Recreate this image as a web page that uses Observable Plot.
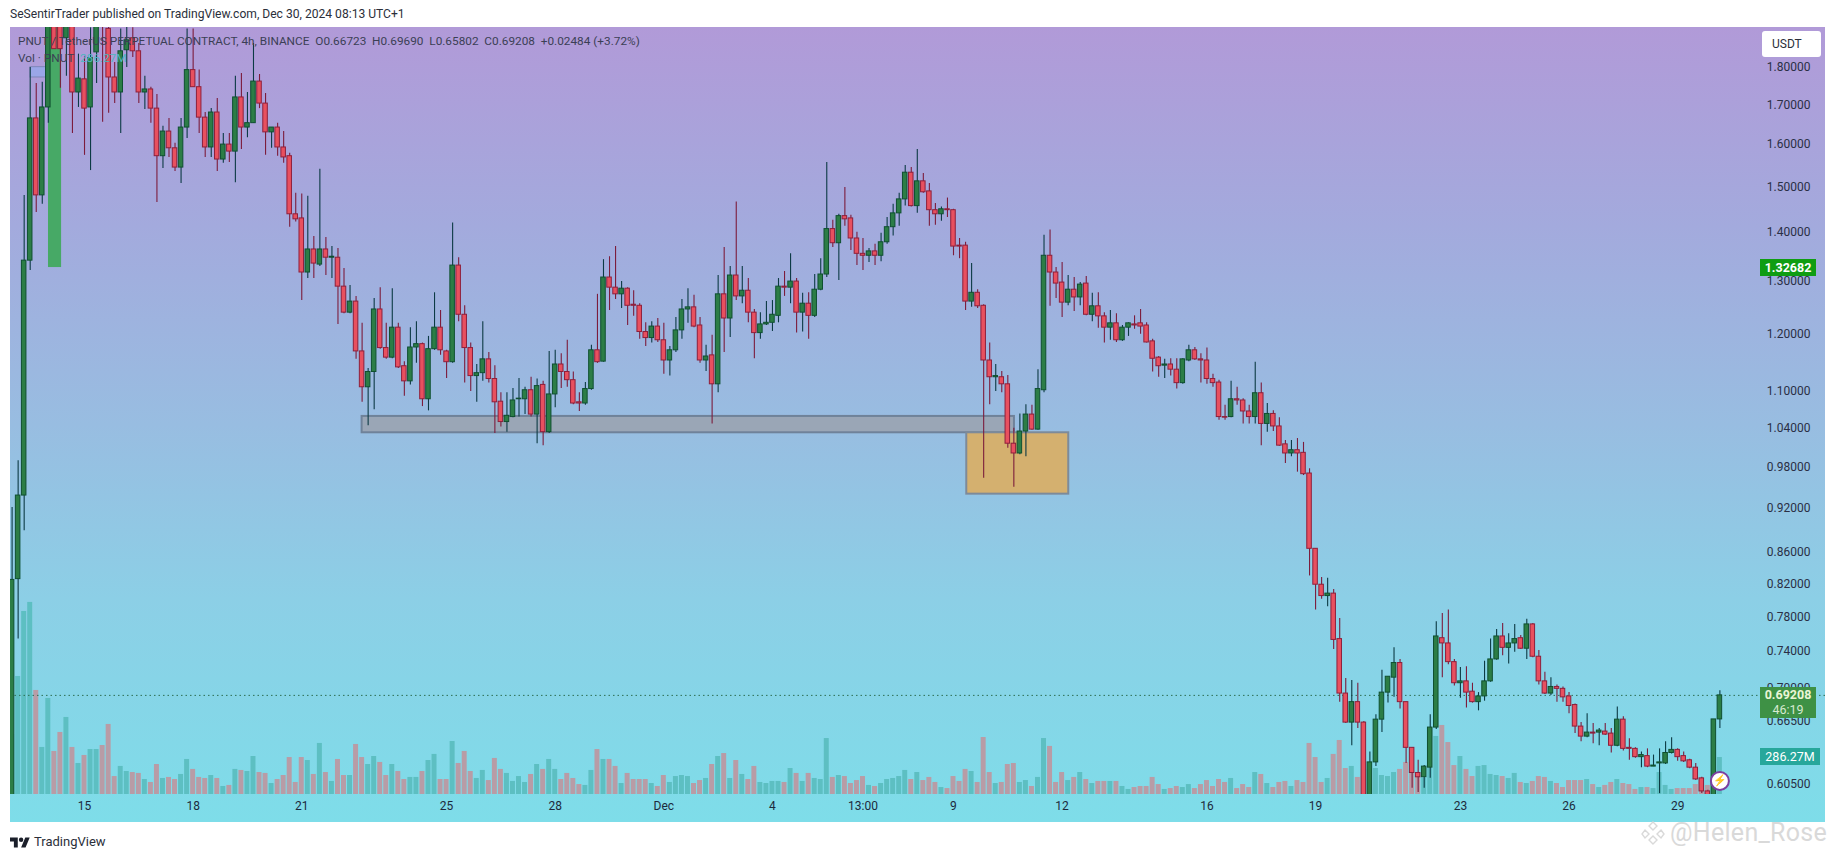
<!DOCTYPE html>
<html><head><meta charset="utf-8">
<script src="https://cdn.jsdelivr.net/npm/d3@7"></script>
<script src="https://cdn.jsdelivr.net/npm/@observablehq/plot@0.6"></script>
<style>
html,body{margin:0;padding:0;background:#fff;font-family:Roboto,sans-serif;overflow:hidden}
#page{position:relative;width:1835px;height:857px;overflow:hidden}
#head{position:absolute;left:10px;top:7px;font-size:12.1px;color:#2b2f3a}
#panel{position:absolute;left:10px;top:27px;width:1815px;height:795px;background:linear-gradient(180deg,#b19ad8 0%,#a3aadd 25%,#98bde1 50%,#8ccfe6 72%,#7edde9 100%)}
#stack{position:absolute;left:0;top:27px;width:1835px;height:795px}
#stack svg{position:absolute;left:0;top:0}
.leg{position:absolute;left:18px;font-size:11.8px;color:#3b3f55;white-space:pre}
.tag{position:absolute;left:1760px;width:56px;color:#fff;font-size:12.5px;font-weight:700;text-align:center}
#tv{position:absolute;left:10px;top:834px;display:flex;align-items:center;gap:4px;font-size:13px;color:#2b2f3a}
#wm{position:absolute;left:1640px;top:818px;display:flex;align-items:center;gap:4px;font-size:25px;color:#d9d9d9;letter-spacing:.3px}
#usdt{position:absolute;left:1762px;top:31px;width:59px;height:26px;background:#fff;border-radius:3px;font-size:12px;line-height:26px;color:#2b2f3a;text-indent:10px}
</style></head><body>
<div id="page">
<div id="head">SeSentirTrader published on TradingView.com, Dec 30, 2024 08:13 UTC+1</div>
<div id="panel"></div>
<div id="stack"></div>
<div class="leg" style="top:34px">PNUT / TetherUS PERPETUAL CONTRACT, 4h, BINANCE  O0.66723  H0.69690  L0.65802  C0.69208  +0.02484 (+3.72%)</div>
<div class="leg" style="top:51px">Vol · PNUT  <span style="color:#4fb6c0">286.27M</span></div>
<div id="usdt">USDT</div>
<div class="tag" style="top:259px;height:17px;line-height:17px;background:#0f9d12">1.32682</div>
<div class="tag" style="top:687px;height:31px;background:#3e9145;line-height:15px;padding-top:0;color:#eaf5d5"><div>0.69208</div><div style="font-weight:400;color:#d7ead0">46:19</div></div>
<div class="tag" style="top:748px;height:17px;width:60px;line-height:17px;background:#27a79b;font-weight:400">286.27M</div>
<div id="tv"><svg width="20" height="14" viewBox="0 0 36 24"><path fill="#1b1f2a" d="M14 22H7V11H0V4h14v18zM28 22h-8l7.5-18h8L28 22z"/><circle fill="#1b1f2a" cx="20" cy="8" r="4"/></svg><span>TradingView</span></div>
<div id="wm"><svg width="26" height="26" viewBox="0 0 26 26" fill="none" stroke="#d9d9d9" stroke-width="1.4"><path d="M13 2l4 4-4 4-4-4zM5 10l4 4-4 4-3-4zM21 10l3 4-3 4-4-4zM13 16l4 4-4 4-4-4z"/></svg><span>@Helen_Rose</span></div>
</div>
<script>
const opens=[.59,.826,.938,1.341,1.665,1.481,1.693,1.947,1.947,1.881,
1.947,1.732,1.767,1.693,1.841,1.939,1.908,1.772,1.732,1.847,
1.881,1.844,1.732,1.740,1.690,1.572,1.632,1.591,1.545,1.642,
1.792,1.746,1.667,1.593,1.680,1.564,1.600,1.583,1.719,1.642,
1.653,1.761,1.703,1.630,1.642,1.593,1.572,1.439,1.430,1.317,
1.364,1.333,1.364,1.347,1.347,1.289,1.239,1.260,1.168,1.106,
1.132,1.245,1.174,1.157,1.211,1.142,1.116,1.175,1.181,1.086,
1.172,1.211,1.168,1.149,1.331,1.235,1.174,1.125,1.130,1.154,
1.120,1.082,1.049,1.057,1.086,1.086,1.101,1.061,1.110,1.033,
1.094,1.145,1.132,1.118,1.081,1.079,1.103,1.170,1.150,1.307,
1.287,1.274,1.285,1.254,1.252,1.203,1.192,1.213,1.188,1.152,
1.170,1.206,1.245,1.249,1.215,1.152,1.161,1.111,1.274,1.228,
1.311,1.270,1.281,1.239,1.201,1.217,1.220,1.233,1.289,1.287,
1.299,1.239,1.256,1.233,1.283,1.313,1.407,1.377,1.435,1.430,
1.387,1.355,1.351,1.360,1.351,1.379,1.411,1.441,1.472,1.533,
1.457,1.513,1.490,1.448,1.439,1.450,1.448,1.372,1.372,1.260,
1.277,1.252,1.152,1.123,1.123,1.111,1.015,1.000,1.034,1.061,
1.037,1.101,1.351,1.317,1.297,1.258,1.283,1.268,1.295,1.235,
1.251,1.232,1.211,1.219,1.188,1.211,1.217,1.219,1.215,1.186,
1.157,1.143,1.145,1.136,1.113,1.152,1.170,1.154,1.152,1.120,
1.114,1.057,1.057,1.086,1.084,1.066,1.057,1.096,1.046,1.062,
1.042,1.014,1.000,1.005,1.001,.970,.865,.819,.805,.808,
.754,.694,.664,.685,.664,.59,.625,.667,.695,.711,
.727,.685,.639,.615,.611,.620,.659,.755,.749,.728,
.705,.707,.696,.685,.691,.707,.731,.757,.744,.749,
.755,.743,.771,.734,.707,.694,.701,.699,.691,.682,
.660,.650,.654,.654,.655,.653,.641,.667,.639,.638,
.630,.631,.621,.624,.624,.634,.637,.631,.627,.620,
.610,.598,.59,.66723];
const closes=[.825,.938,1.341,1.665,1.481,1.693,1.933,1.850,1.850,1.947,
1.732,1.769,1.690,1.825,1.933,1.918,1.772,1.732,1.844,1.875,
1.844,1.732,1.740,1.690,1.572,1.632,1.591,1.545,1.642,1.792,
1.746,1.667,1.593,1.680,1.564,1.600,1.583,1.719,1.642,1.653,
1.761,1.703,1.630,1.642,1.593,1.569,1.439,1.428,1.317,1.364,
1.335,1.364,1.347,1.349,1.289,1.239,1.260,1.168,1.106,1.132,
1.245,1.174,1.157,1.211,1.140,1.116,1.175,1.181,1.086,1.172,
1.211,1.170,1.149,1.331,1.235,1.174,1.125,1.130,1.154,1.120,
1.081,1.049,1.059,1.084,1.087,1.101,1.061,1.108,1.033,1.094,
1.145,1.132,1.118,1.079,1.079,1.103,1.170,1.149,1.307,1.287,
1.274,1.285,1.252,1.252,1.203,1.192,1.213,1.188,1.152,1.170,
1.206,1.245,1.249,1.213,1.152,1.159,1.111,1.274,1.228,1.311,
1.270,1.281,1.239,1.201,1.217,1.220,1.235,1.289,1.287,1.299,
1.239,1.256,1.233,1.283,1.313,1.407,1.377,1.435,1.428,1.387,
1.355,1.351,1.360,1.351,1.379,1.411,1.441,1.472,1.533,1.457,
1.513,1.488,1.448,1.439,1.450,1.448,1.370,1.370,1.260,1.277,
1.251,1.152,1.123,1.125,1.111,1.015,1.000,1.034,1.061,1.037,
1.103,1.351,1.317,1.295,1.258,1.283,1.268,1.293,1.235,1.251,
1.232,1.211,1.219,1.188,1.211,1.219,1.215,1.213,1.184,1.155,
1.142,1.145,1.136,1.113,1.154,1.170,1.154,1.152,1.120,1.113,
1.057,1.056,1.086,1.084,1.066,1.057,1.096,1.046,1.062,1.042,
1.012,1.000,1.005,1.000,.969,.865,.819,.805,.808,.753,
.694,.664,.685,.664,.59,.625,.667,.695,.712,.727,
.685,.639,.615,.611,.621,.659,.757,.749,.728,.705,
.707,.695,.685,.691,.707,.731,.757,.744,.749,.754,
.743,.771,.734,.707,.694,.701,.699,.690,.681,.660,
.650,.654,.653,.656,.652,.641,.667,.638,.638,.630,
.632,.621,.622,.625,.634,.637,.630,.626,.620,.609,
.598,.59,.66723,.69208];
const highs=[.921,.989,1.481,1.799,1.756,1.759,1.933,1.947,1.947,1.962,
1.962,1.836,1.830,1.911,1.947,1.947,1.933,1.813,1.908,1.933,
1.911,1.866,1.775,1.746,1.727,1.645,1.665,1.603,1.665,1.908,
1.908,1.792,1.680,1.690,1.716,1.627,1.627,1.775,1.783,1.732,
1.866,1.780,1.729,1.642,1.653,1.632,1.579,1.486,1.484,1.479,
1.391,1.541,1.389,1.370,1.366,1.325,1.291,1.270,1.219,1.138,
1.266,1.287,1.219,1.285,1.219,1.150,1.211,1.222,1.183,1.195,
1.277,1.243,1.170,1.420,1.347,1.252,1.183,1.145,1.222,1.166,
1.143,1.097,1.097,1.104,1.121,1.106,1.123,1.120,1.116,1.168,
1.170,1.164,1.188,1.132,1.097,1.114,1.179,1.274,1.343,1.349,
1.370,1.299,1.287,1.281,1.256,1.220,1.222,1.228,1.219,1.177,
1.230,1.264,1.285,1.272,1.230,1.179,1.197,1.311,1.368,1.329,
1.466,1.329,1.305,1.245,1.239,1.260,1.262,1.305,1.319,1.355,
1.305,1.276,1.277,1.313,1.345,1.557,1.426,1.439,1.499,1.437,
1.400,1.387,1.366,1.375,1.398,1.432,1.461,1.486,1.550,1.545,
1.588,1.531,1.508,1.463,1.455,1.475,1.450,1.387,1.379,1.335,
1.283,1.254,1.183,1.145,1.133,1.126,1.039,1.062,1.077,1.076,
1.136,1.394,1.405,1.327,1.337,1.311,1.307,1.297,1.309,1.276,
1.277,1.239,1.243,1.237,1.215,1.220,1.233,1.245,1.220,1.190,
1.159,1.154,1.155,1.155,1.155,1.179,1.175,1.164,1.174,1.128,
1.118,1.076,1.116,1.106,1.087,1.076,1.149,1.113,1.079,1.067,
1.056,1.020,1.020,1.023,1.017,.977,.865,.828,.827,.813,
.778,.710,.708,.705,.665,.635,.672,.719,.712,.744,
.731,.685,.639,.627,.622,.672,.774,.784,.788,.731,
.722,.723,.705,.695,.729,.754,.765,.772,.760,.771,
.758,.777,.772,.741,.717,.711,.703,.701,.695,.683,
.664,.673,.663,.658,.663,.658,.680,.670,.648,.639,
.635,.638,.632,.638,.645,.649,.638,.635,.628,.624,
.611,.599,.667,.6969];
const lows=[.59,.754,.889,1.321,1.443,1.461,1.653,1.850,1.743,1.775,
1.627,1.693,1.574,1.538,1.756,1.655,1.678,1.703,1.627,1.799,
1.827,1.703,1.688,1.653,1.465,1.543,1.569,1.536,1.508,1.615,
1.746,1.627,1.569,1.569,1.536,1.555,1.557,1.510,1.588,1.617,
1.653,1.690,1.574,1.591,1.572,1.555,1.411,1.422,1.262,1.305,
1.305,1.329,1.311,1.305,1.217,1.237,1.237,1.154,1.081,1.043,
1.069,1.172,1.154,1.155,1.138,1.091,1.110,1.147,1.074,1.067,
1.170,1.161,1.121,1.147,1.222,1.113,1.099,1.081,1.116,1.113,
1.031,1.041,1.033,1.056,1.057,1.061,1.057,1.015,1.012,1.031,
1.072,1.104,1.106,1.077,1.066,1.076,1.101,1.147,1.149,1.243,
1.264,1.247,1.215,1.232,1.190,1.177,1.183,1.184,1.128,1.125,
1.166,1.190,1.219,1.211,1.147,1.133,1.046,1.097,1.166,1.193,
1.262,1.256,1.220,1.155,1.190,1.215,1.204,1.220,1.270,1.256,
1.201,1.203,1.190,1.230,1.281,1.307,1.368,1.301,1.413,1.362,
1.331,1.321,1.337,1.331,1.339,1.375,1.392,1.413,1.457,1.455,
1.441,1.486,1.413,1.415,1.424,1.432,1.351,1.345,1.243,1.249,
1.247,.963,1.077,1.099,1.097,1.008,.950,.998,.995,1.036,
1.036,1.097,1.251,1.266,1.230,1.252,1.241,1.252,1.233,1.222,
1.210,1.183,1.188,1.184,1.186,1.195,1.208,1.199,1.183,1.132,
1.123,1.121,1.125,1.103,1.111,1.150,1.152,1.113,1.111,1.106,
1.052,1.052,1.056,1.076,1.046,1.046,1.046,1.012,1.033,1.034,
1.011,.985,.995,.972,.967,.830,.788,.801,.792,.742,
.685,.663,.641,.658,.59,.59,.621,.654,.684,.690,
.678,.624,.601,.597,.601,.610,.657,.711,.725,.702,
.689,.679,.684,.676,.686,.706,.730,.735,.726,.739,
.742,.731,.733,.703,.693,.692,.685,.685,.673,.653,
.645,.649,.643,.641,.651,.634,.640,.636,.627,.629,
.620,.620,.621,.596,.623,.633,.626,.625,.619,.608,
.596,.59,.59,.65802];
const volumes=[464,913,1416,1486,805,364,743,333,480,596,
364,240,302,348,348,379,542,139,217,178,
170,163,116,93,232,124,132,116,155,271,
194,132,124,147,124,62,70,194,186,178,
294,170,163,85,116,147,286,93,286,263,
155,395,170,101,271,147,147,387,286,232,
294,248,147,232,178,116,132,132,178,263,
310,116,116,410,240,333,178,124,186,108,
279,194,163,101,139,93,155,232,194,271,
194,116,163,124,77,70,186,348,271,271,
217,85,163,116,116,116,85,62,147,93,
139,147,139,85,108,124,232,294,317,124,
263,155,116,217,93,85,101,101,93,201,
163,101,163,124,116,433,132,147,139,85,
108,139,70,62,85,116,124,139,186,116,
170,108,132,93,54,46,139,101,194,178,
93,441,170,85,93,232,240,93,108,62,
132,433,372,93,170,108,132,170,116,85,
101,101,101,101,62,39,54,62,62,132,
77,39,46,62,54,77,46,77,108,62,
116,93,124,46,77,54,170,155,85,54,
93,101,62,108,93,395,286,93,124,310,
418,201,217,132,139,194,201,147,139,170,
194,248,186,147,124,201,449,534,402,224,
294,194,139,217,224,155,147,139,124,163,
93,85,101,139,132,101,85,54,108,108,
108,116,77,54,70,93,116,85,77,39,
54,54,46,170,70,39,46,46,46,77,
93,70,163,286.27];

const priceTicks=[1.8,1.7,1.6,1.5,1.4,1.3,1.2,1.1,1.04,.98,.92,.86,.82,.78,.74,.70,.665,.605];
const timeTickBars=[12,30,48,72,90,108,126,141,156,174,198,216,240,258,276];
const timeTickLabels=["15","18","21","25","28","Dec","4","13:00","9","12","16","19","23","26","29"];
const lastPrice=0.69208;
const zoneGray={bar1:58,bar2:166.1,top:1.058,bottom:1.032};
const zoneOrange={bar1:158.2,bar2:175.1,top:1.032,bottom:.940};
const zoneGreen={bar1:6.03,bar2:8.2,top:1.95,bottom:1.327};
const zoneBlue={bar1:3.05,bar2:5.7,top:1.80,bottom:1.772};

const H4=4*3600*1000, t0=Date.UTC(2024,10,13,1);
const at=(i)=>new Date(t0+i*H4);
const bars=opens.map((o,i)=>({i,o,c:closes[i],h:highs[i],l:lows[i],v:volumes[i],up:closes[i]>=o,t:at(i)}));
const shared={width:1835,height:795,marginTop:0,marginBottom:28,marginLeft:10,marginRight:10,
  style:{background:"transparent",overflow:"visible"}};
const xDomain=[at(-0.265),at(300.5)];
const rectOf=(z,fill,stroke,fillOpacity)=>Plot.rect([z],{x1:d=>at(d.bar1),x2:d=>at(d.bar2),y1:"bottom",y2:"top",fill,stroke,fillOpacity,strokeWidth:2,clip:true});

const volPlot=Plot.plot({...shared,
  x:{type:"utc",domain:xDomain,axis:null},
  y:{domain:[0,5934],axis:null},
  marks:[
    Plot.rect(bars,{x1:d=>new Date(+d.t-1.65*3600e3),x2:d=>new Date(+d.t+1.65*3600e3),y1:0,y2:"v",
      fill:d=>d.up?"#5dbfc2":"#b89ca6",clip:true})
  ]});
const pricePlot=Plot.plot({...shared,
  x:{type:"utc",domain:xDomain},
  y:{type:"log",domain:[0.5952,1.912]},
  marks:[
    rectOf(zoneGray,"#9aa6b6","#6f8299",1),
    rectOf(zoneOrange,"#d4b06f","#7d8a99",1),
    Plot.rect([zoneGreen],{x1:d=>at(d.bar1),x2:d=>at(d.bar2),y1:"bottom",y2:"top",fill:"#47a966",clip:true}),
    Plot.rect([zoneBlue],{x1:d=>at(d.bar1),x2:d=>at(d.bar2),y1:"bottom",y2:"top",fill:"#9aa6e8",stroke:"#7f86b8",clip:true}),
    Plot.ruleY([lastPrice],{stroke:"#2e6f52",strokeDasharray:"1.5 3",strokeWidth:1}),
    Plot.ruleX(bars,{x:"t",y1:"l",y2:"h",stroke:d=>d.up?"#0c3a44":"#7c1c3c",strokeWidth:1.1,clip:true}),
    Plot.rect(bars,{x1:d=>new Date(+d.t-1.5*3600e3),x2:d=>new Date(+d.t+1.5*3600e3),
      y1:d=>Math.min(d.o,d.c),y2:d=>Math.max(d.o,d.c),
      fill:d=>d.up?"#2c7d46":"#e8505f",stroke:d=>d.up?"#0f5030":"#8e1f3b",strokeWidth:1,clip:true}),
    Plot.axisY({anchor:"right",ticks:priceTicks,tickSize:0,textAnchor:"end",tickPadding:0,dx:-15,
      tickFormat:d=>d.toFixed(5),fontSize:12,fill:"#2a2f45",label:null,fontFamily:"Roboto"}),
    Plot.axisX({ticks:timeTickBars.map(at),tickSize:0,tickPadding:7,
      tickFormat:d=>timeTickLabels[timeTickBars.indexOf((+d-t0)/H4)],fontSize:12,fill:"#1d2a3c",label:null,fontFamily:"Roboto"}),
    Plot.dot([{x:at(283),y:0.6076}],{x:"x",y:"y",r:9,fill:"#fff",stroke:"#7b3fa0",strokeWidth:2}),
    Plot.text([{x:at(283),y:0.6076}],{x:"x",y:"y",text:()=>"⚡",fontSize:11,fill:"#7b3fa0"})
  ]});
const stack=document.getElementById("stack");
stack.append(volPlot,pricePlot);
</script>
</body></html>
